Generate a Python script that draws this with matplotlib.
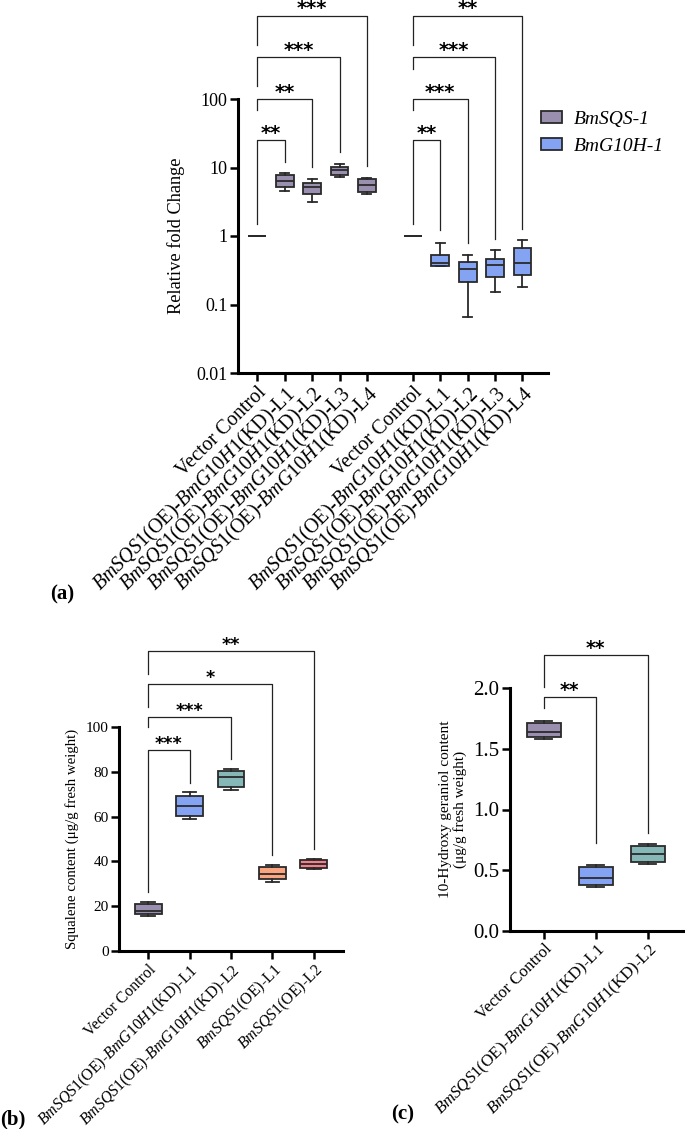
import numpy as np
import matplotlib
matplotlib.use("Agg")
import matplotlib.pyplot as plt
from matplotlib.patches import Patch
from matplotlib.ticker import FixedLocator, FuncFormatter, NullLocator

plt.rcParams['font.family'] = 'Liberation Serif'
plt.rcParams['mathtext.fontset'] = 'custom'
plt.rcParams['mathtext.rm'] = 'Liberation Serif'
plt.rcParams['mathtext.it'] = 'Liberation Serif:italic'

# ---- data ----
kd = r'$\mathit{BmSQS1}$(OE)-$\mathit{BmG10H1}$(KD)-'
cats_a = ['Vector Control', kd + 'L1', kd + 'L2', kd + 'L3', kd + 'L4']

# (a) relative fold change, box stats: whislo, q1, med, q3, whishi
sqs_whislo = [1, 4.5, 3.1, 7.3, 4.1]
sqs_q1     = [1, 5.2, 4.1, 7.8, 4.4]
sqs_med    = [1, 6.4, 5.2, 9.2, 5.5]
sqs_q3     = [1, 7.8, 5.9, 10.2, 6.8]
sqs_whishi = [1, 8.3, 6.8, 11.2, 7.0]

g10h_whislo = [1, 0.36, 0.066, 0.15, 0.18]
g10h_q1     = [1, 0.365, 0.21, 0.25, 0.27]
g10h_med    = [1, 0.40, 0.33, 0.38, 0.40]
g10h_q3     = [1, 0.53, 0.42, 0.46, 0.67]
g10h_whishi = [1, 0.79, 0.53, 0.63, 0.87]

# (b) squalene content
cats_b = ['Vector Control', kd + 'L1', kd + 'L2',
          r'$\mathit{BmSQS1}$(OE)-L1', r'$\mathit{BmSQS1}$(OE)-L2']
sq_whislo = [15.6, 58.9, 71.9, 30.8, 36.6]
sq_q1     = [16.5, 60.3, 73.2, 32.1, 37.1]
sq_med    = [17.9, 64.7, 77.7, 34.4, 38.8]
sq_q3     = [21.0, 69.2, 80.4, 37.5, 40.6]
sq_whishi = [21.9, 71.0, 81.3, 38.4, 41.1]

# (c) 10-hydroxy geraniol content
cats_c = ['Vector Control', kd + 'L1', kd + 'L2']
ge_whislo = [1.58, 0.36, 0.55]
ge_q1     = [1.60, 0.38, 0.57]
ge_med    = [1.64, 0.44, 0.63]
ge_q3     = [1.71, 0.527, 0.70]
ge_whishi = [1.73, 0.54, 0.72]

# significance brackets: (target index, top, left leg end, right leg end, label)
sig_sqs  = [(1, 25, 1.5, 12, '**'), (2, 100, 69, 10.2, '**'),
            (3, 408, 155, 16.8, '***'), (4, 1645, 614, 10.5, '***')]
sig_g10h = [(1, 25, 1.5, 1.22, '**'), (2, 100, 69, 0.79, '***'),
            (3, 408, 274, 0.90, '***'), (4, 1645, 614, 1.26, '**')]
sig_b = [(1, 89.7, 26.3, 75, '***'), (2, 104.5, 100, 85.7, '***'),
         (3, 119.2, 108.9, 42.9, '*'), (4, 133.9, 123.7, 45.5, '**')]
sig_c = [(1, 1.926, 1.835, 0.724, '**'), (2, 2.27, 2.008, 0.807, '**')]

purple = '#9B8FB0'
blue = '#84A3F2'
teal = '#86B8B8'
orange = '#F9A57F'
red = '#F58088'
edge = '#2a2a2a'


def stats(lo, q1, med, q3, hi):
    return [dict(whislo=a, q1=b, med=c, q3=d, whishi=e, fliers=[])
            for a, b, c, d, e in zip(lo, q1, med, q3, hi)]


def boxes(ax, st, pos, colors, w=0.65):
    bp = ax.bxp(st, positions=pos, widths=w, capwidths=w * 0.5,
                patch_artist=True, showfliers=False,
                boxprops=dict(edgecolor=edge, linewidth=1.3),
                medianprops=dict(color=edge, linewidth=1.3),
                whiskerprops=dict(color=edge, linewidth=1.3),
                capprops=dict(color=edge, linewidth=1.3))
    for b, c in zip(bp['boxes'], colors):
        b.set_facecolor(c)


def bracket(ax, x1, x2, top, lb, rb, label, fs, dy):
    ax.plot([x1, x1, x2, x2], [lb, top, top, rb], color='#222222',
            lw=0.9, clip_on=False)
    ax.annotate(label, xy=((x1 + x2) / 2, top), xytext=(0, dy),
                textcoords='offset points', ha='center', va='bottom',
                fontsize=fs, fontweight='bold', family='DejaVu Sans',
                annotation_clip=False)


def style(ax, fs_tick):
    for s in ['top', 'right']:
        ax.spines[s].set_visible(False)
    for s in ['left', 'bottom']:
        ax.spines[s].set_linewidth(2.2)
    ax.tick_params(width=1.8, length=5.5, labelsize=fs_tick, pad=2)


W, H = 685, 1129
fig = plt.figure(figsize=(W / 100, H / 100), dpi=100)


def axes_px(l, t, r, b):
    return fig.add_axes([l / W, 1 - b / H, (r - l) / W, (b - t) / H])


# ---- (a) ----
ax = axes_px(238, 99, 548, 373)
pos1 = np.arange(5)
pos2 = np.arange(5) + 5.67
boxes(ax, stats(sqs_whislo, sqs_q1, sqs_med, sqs_q3, sqs_whishi), pos1, [purple] * 5)
boxes(ax, stats(g10h_whislo, g10h_q1, g10h_med, g10h_q3, g10h_whishi), pos2, [blue] * 5)
ax.set_yscale('log')
ax.set_ylim(0.01, 100)
ax.set_xlim(-0.7, 10.6)
ax.yaxis.set_major_locator(FixedLocator([0.01, 0.1, 1, 10, 100]))
ax.yaxis.set_minor_locator(NullLocator())
ax.yaxis.set_major_formatter(FuncFormatter(lambda v, p: '%g' % v))
style(ax, 13)
ax.set_xticks(np.concatenate([pos1, pos2]))
ax.set_xticklabels(cats_a * 2, rotation=45, ha='right', rotation_mode='anchor',
                   fontsize=14.5)
ax.set_ylabel('Relative fold Change', fontsize=13.2, labelpad=8)
for i, top, lb, rb, lab in sig_sqs:
    bracket(ax, pos1[0], pos1[i], top, lb, rb, lab, 14, -2)
for i, top, lb, rb, lab in sig_g10h:
    bracket(ax, pos2[0], pos2[i], top, lb, rb, lab, 14, -2)
fig.legend(handles=[Patch(facecolor=purple, edgecolor=edge, lw=1.3, label='BmSQS-1'),
                    Patch(facecolor=blue, edgecolor=edge, lw=1.3, label='BmG10H-1')],
           loc='upper left', bbox_to_anchor=(541 / W, 1 - 111 / H), frameon=False,
           prop=dict(family='Liberation Serif', style='italic', size=14),
           handlelength=1.1, handleheight=0.57, handletextpad=0.6,
           labelspacing=0.5, borderpad=0, borderaxespad=0)
fig.text(62 / W, 1 - 594 / H, '(a)', fontsize=15, fontweight='bold',
         ha='center', va='center')

# ---- (b) ----
ax = axes_px(119, 727, 343, 951)
posb = np.arange(5)
boxes(ax, stats(sq_whislo, sq_q1, sq_med, sq_q3, sq_whishi), posb,
      [purple, blue, teal, orange, red])
ax.set_ylim(0, 100)
ax.set_xlim(-0.7, 4.7)
ax.set_yticks([0, 20, 40, 60, 80, 100])
style(ax, 11)
ax.set_xticks(posb)
ax.set_xticklabels(cats_b, rotation=45, ha='right', rotation_mode='anchor', fontsize=11.4)
ax.set_ylabel('Squalene content (μg/g fresh weight)', fontsize=10.7, labelpad=5)
for i, top, lb, rb, lab in sig_b:
    bracket(ax, posb[0], posb[i], top, lb, rb, lab, 12.5, -2)
fig.text(13 / W, 1 - 1119 / H, '(b)', fontsize=15, fontweight='bold',
         ha='center', va='center')

# ---- (c) ----
ax = axes_px(510, 688, 684, 931)
posc = np.arange(3)
boxes(ax, stats(ge_whislo, ge_q1, ge_med, ge_q3, ge_whishi), posc, [purple, blue, teal])
ax.set_ylim(0, 2.0)
ax.set_xlim(-0.65, 2.7)
ax.set_yticks([0.0, 0.5, 1.0, 1.5, 2.0])
ax.yaxis.set_major_formatter(FuncFormatter(lambda v, p: '%.1f' % v))
style(ax, 15)
ax.set_xticks(posc)
ax.set_xticklabels(cats_c, rotation=45, ha='right', rotation_mode='anchor', fontsize=12.2)
ax.set_ylabel('10-Hydroxy geraniol content\n(μg/g fresh weight)', fontsize=11,
              labelpad=5, linespacing=1.05)
for i, top, lb, rb, lab in sig_c:
    bracket(ax, posc[0], posc[i], top, lb, rb, lab, 13.5, -2)
fig.text(403 / W, 1 - 1114 / H, '(c)', fontsize=15, fontweight='bold',
         ha='center', va='center')

fig.savefig('out.png', dpi=100)
